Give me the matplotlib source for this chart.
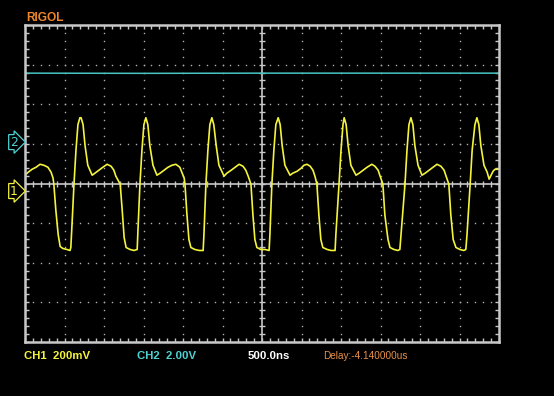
import matplotlib
matplotlib.use("Agg")
import matplotlib.pyplot as plt
import matplotlib.transforms as mtransforms
import numpy as np

# scope settings
ch1_scale_mv = 200.0      # mV/div
ch2_scale_v = 2.0         # V/div
time_scale_ns = 500.0     # ns/div
ch1_pos_div = -0.19       # ground marker offsets (div from centre)
ch2_pos_div = 1.045

# CH1 trace, time in ns and voltage in mV
ch1_t = [-3000, -2960, -2910, -2860, -2810, -2760, -2710, -2670, -2645, -2635,
         -2610, -2580, -2555, -2520, -2470, -2430, -2420, -2405, -2380, -2355,
         -2330, -2305, -2290,
         -2265, -2240, -2205, -2150, -2115, -2065, -2015, -1960, -1910, -1875,
         -1850, -1795, -1770, -1745, -1720, -1670, -1620, -1580, -1570, -1545,
         -1520, -1495, -1470,
         -1445, -1420, -1380, -1330, -1290, -1240, -1190, -1140, -1090, -1040,
         -1015, -985, -975, -950, -925, -900, -850, -795, -745, -735,
         -710, -685, -660, -635,
         -610, -580, -545, -480, -445, -390, -340, -290, -240, -205,
         -175, -140, -115, -90, -65, -15, 40, 90, 100, 125,
         150, 175, 205,
         230, 255, 290, 355, 390, 445, 495, 530, 570, 610,
         645, 670, 695, 720, 745, 770, 825, 875, 925, 935,
         975, 1000, 1025, 1040,
         1065, 1090, 1125, 1190, 1230, 1280, 1330, 1390, 1430, 1470,
         1495, 1530, 1555, 1595, 1620, 1670, 1720, 1745, 1760, 1810,
         1835, 1860, 1885,
         1910, 1935, 1975, 2025, 2065, 2115, 2165, 2215, 2265, 2305,
         2330, 2365, 2390, 2420, 2455, 2505, 2555, 2580, 2595, 2635,
         2660, 2695, 2720,
         2745, 2770, 2810, 2850, 2875, 2900, 2925, 2950, 3000]
ch1_mv = [80, 95, 110, 120, 135, 130, 120, 95, 65, 35,
          -95, -220, -280, -290, -295, -300, -285, -170, 35, 205,
          335, 370, 370,
          335, 230, 130, 80, 90, 105, 120, 135, 125, 105,
          75, 35, -95, -235, -285, -295, -300, -295, -195, 35,
          205, 335, 370,
          335, 230, 130, 80, 90, 105, 120, 130, 135, 120,
          95, 65, 35, -120, -245, -285, -295, -300, -300, -220,
          35, 205, 335, 370,
          335, 230, 130, 75, 90, 105, 120, 135, 125, 105,
          75, 35, -120, -245, -285, -295, -295, -300, -220, 35,
          205, 335, 370,
          335, 230, 130, 80, 90, 100, 115, 130, 135, 125,
          105, 75, 35, -120, -245, -285, -295, -300, -300, -220,
          35, 205, 335, 370,
          335, 230, 130, 80, 90, 105, 120, 135, 125, 105,
          75, 35, -120, -245, -285, -295, -300, -295, -220, 35,
          205, 335, 370,
          335, 230, 130, 80, 90, 105, 120, 135, 125, 105,
          75, 35, -120, -245, -285, -295, -300, -295, -220, 35,
          205, 335, 370,
          335, 230, 130, 95, 60, 80, 100, 110, 110]

# CH2 trace (flat logic high)
ch2_t = [-3000, -1500, 0, 1500, 3000]
ch2_v = [3.48, 3.47, 3.48, 3.48, 3.48]

bg = "black"
frame = "#c8c8c8"
yellow = "#f4f43c"
cyan = "#4cd2d2"
orange = "#f0862c"

W, H = 554, 396
fig = plt.figure(figsize=(W / 100, H / 100), dpi=100, facecolor=bg)
ax = fig.add_axes([25 / W, 1 - 342 / H, 474 / W, 317 / H], facecolor=bg)
ax.set_xlim(-6 * time_scale_ns, 6 * time_scale_ns)
ax.set_ylim(-4, 4)

# dotted graticule
sub_x = np.arange(-3000, 3001, 100)
sub_y = np.arange(-4, 4.001, 0.2)
for gx in np.arange(-2500, 2501, 500):
    if gx != 0:
        ax.plot(np.full(sub_y.size, gx), sub_y, ls="none", marker="s",
                ms=1.0, mew=0, color="#b0b0b0")
for gy in range(-3, 4):
    if gy != 0:
        ax.plot(sub_x, np.full(sub_x.size, gy), ls="none", marker="s",
                ms=1.0, mew=0, color="#b0b0b0")

# centre cross with ticks
ax.axhline(0, color=frame, lw=1.2)
ax.axvline(0, color=frame, lw=1.2)
ax.plot(sub_x, np.zeros(sub_x.size), ls="none", marker="|", ms=5,
        mew=1.0, color=frame)
ax.plot(np.zeros(sub_y.size), sub_y, ls="none", marker="_", ms=5,
        mew=1.0, color=frame)

for s in ax.spines.values():
    s.set_color(frame)
    s.set_linewidth(1.8)
ax.set_xticks(sub_x)
ax.set_yticks(sub_y)
ax.tick_params(direction="in", length=3, width=1, color=frame,
               top=True, right=True, labelbottom=False, labelleft=False)

# traces
ax.plot(ch2_t, np.array(ch2_v) / ch2_scale_v + ch2_pos_div,
        color="#48c4c4", lw=1.1)
ax.plot(ch1_t, np.array(ch1_mv) / ch1_scale_mv + ch1_pos_div,
        color=yellow, lw=1.2)

# channel markers
trans = mtransforms.blended_transform_factory(ax.transAxes, ax.transData)
for num, pos, col in [("2", ch2_pos_div, cyan), ("1", ch1_pos_div, yellow)]:
    ax.text(-0.024, pos, num, transform=trans, ha="center", va="center",
            color=col, fontsize=9, family="DejaVu Sans", clip_on=False,
            bbox=dict(boxstyle="rarrow,pad=0.08", fc=bg, ec=col, lw=0.9))

# screen texts
fig.text(26 / W, 1 - 21 / H, "RIGOL", color=orange, fontsize=8.6,
         fontweight="bold", family="Liberation Sans", va="baseline")
fig.text(24 / W, 1 - 359 / H, "CH1  200mV", color=yellow, fontsize=8.2,
         fontweight="bold", family="Liberation Sans", va="baseline")
fig.text(137 / W, 1 - 359 / H, "CH2  2.00V", color=cyan, fontsize=8.2,
         fontweight="bold", family="Liberation Sans", va="baseline")
fig.text(248 / W, 1 - 359 / H, "500.0ns", color="white", fontsize=8.2,
         fontweight="bold", family="Liberation Sans", va="baseline")
fig.text(323 / W, 1 - 359 / H, "Delay:-4.140000us", color="#e8904c",
         fontsize=7.2, family="Liberation Sans", va="baseline")

fig.savefig("out.png", dpi=100, facecolor=bg)
